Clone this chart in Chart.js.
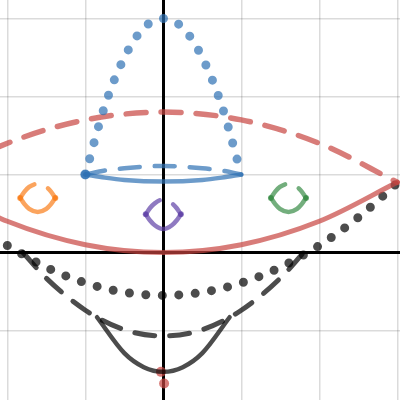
<!DOCTYPE html>
<html><head><meta charset="utf-8">
<script src="https://cdn.jsdelivr.net/npm/chart.js@4"></script>
<style>html,body{margin:0;padding:0;background:#fff}#wrap{width:400px;height:400px}</style>
</head><body><div id="wrap"><canvas id="c"></canvas></div>
<script>
// visible window and grid ticks
const xRange = [-2.094, 3.035];
const yRange = [-1.891, 3.237];
const xTicks = [-2, -1, 0, 1, 2, 3];
const yTicks = [-1, 0, 1, 2, 3];

// blue cone
const coneSideX = [-1, -0.75, -0.5, -0.25, 0, 0.25, 0.5, 0.75, 1];
const coneSideY = [1, 1.88, 2.5, 2.88, 3, 2.88, 2.5, 1.88, 1];
const coneBaseX = [-1, -0.75, -0.5, 0, 0.5, 0.75, 1];
const coneBackY = [1, 1.05, 1.08, 1.11, 1.08, 1.05, 1];
const coneFrontY = [1, 0.96, 0.93, 0.91, 0.93, 0.96, 1];
const conePointX = [-1];
const conePointY = [1];

// red lens
const lensX = [-3, -2, -1, 0, 1, 2, 3];
const lensTopY = [0.9, 1.4, 1.7, 1.8, 1.7, 1.4, 0.9];
const lensBottomY = [0.9, 0.4, 0.1, 0, 0.1, 0.4, 0.9];

// black curves
const dotCurveX = [-2, -1.5, -1, -0.5, 0, 0.5, 1, 1.5, 2, 2.5, 3];
const dotCurveY = [0.09, -0.19, -0.39, -0.51, -0.55, -0.51, -0.39, -0.19, 0.09, 0.45, 0.89];
const dashCurveX = [-1.8, -1.5, -1, -0.5, 0, 0.5, 1, 1.5, 1.8];
const dashCurveY = [0, -0.33, -0.74, -0.99, -1.07, -0.99, -0.74, -0.33, 0];
const bowlX = [-0.85, -0.5, -0.25, 0, 0.25, 0.5, 0.85];
const bowlY = [-0.83, -1.29, -1.47, -1.53, -1.47, -1.29, -0.83];

// red points
const redPtX = [-0.03, 0.01];
const redPtY = [-1.53, -1.68];

// small eyes
const orangeX = [-1.835, -1.78, -1.72, -1.61, -1.50, -1.44, -1.385];
const orangeTopY = [0.70, 0.78, 0.84, 0.88, 0.84, 0.78, 0.70];
const orangeBottomY = [0.70, 0.62, 0.56, 0.52, 0.56, 0.62, 0.70];
const purpleX = [-0.225, -0.17, -0.11, 0, 0.11, 0.17, 0.225];
const purpleTopY = [0.49, 0.57, 0.63, 0.68, 0.63, 0.57, 0.49];
const purpleBottomY = [0.49, 0.41, 0.35, 0.30, 0.35, 0.41, 0.49];
const greenX = [1.38, 1.435, 1.495, 1.605, 1.715, 1.775, 1.83];
const greenTopY = [0.70, 0.78, 0.84, 0.88, 0.84, 0.78, 0.70];
const greenBottomY = [0.70, 0.62, 0.56, 0.52, 0.56, 0.62, 0.70];

const BLUE = 'rgba(45,112,179,0.7)';
const RED = 'rgba(199,68,64,0.7)';
const BLACK = 'rgba(0,0,0,0.7)';
const ORANGE = 'rgba(250,126,25,0.7)';
const PURPLE = 'rgba(96,66,166,0.7)';
const GREEN = 'rgba(56,140,70,0.7)';

const pts = (xs, ys) => xs.map((x, i) => ({x: x, y: ys[i]}));
const DASH = [20, 15];
const DOT = [0, 16.5];

function curve(xs, ys, color, width, dash, offset) {
  return {
    data: pts(xs, ys), showLine: true, borderColor: color, borderWidth: width,
    borderDash: dash || [], borderDashOffset: offset || 0,
    borderCapStyle: 'round', borderJoinStyle: 'round',
    cubicInterpolationMode: 'monotone', pointRadius: 0, fill: false
  };
}
function dots(xs, ys, color, r) {
  return {data: pts(xs, ys), showLine: false, pointRadius: r, pointBackgroundColor: color,
          pointBorderWidth: 0, borderColor: 'transparent'};
}

const datasets = [
  curve(coneSideX, coneSideY, BLUE, 9, DOT),
  curve(coneBaseX, coneBackY, BLUE, 4.5, DASH),
  curve(coneBaseX, coneFrontY, BLUE, 4.5),
  dots(conePointX, conePointY, BLUE, 5),
  curve(lensX, lensTopY, RED, 5.5, DASH),
  curve(lensX, lensBottomY, RED, 5),
  curve(dotCurveX, dotCurveY, BLACK, 9, DOT),
  curve(dashCurveX, dashCurveY, BLACK, 5, DASH),
  curve(bowlX, bowlY, BLACK, 4.5),
  dots(redPtX, redPtY, RED, 5),
  curve(orangeX, orangeTopY, ORANGE, 4.5, DASH),
  curve(orangeX, orangeBottomY, ORANGE, 4.5),
  dots([orangeX[0], orangeX[6]], [orangeTopY[0], orangeTopY[6]], ORANGE, 3),
  curve(purpleX, purpleTopY, PURPLE, 4.5, DASH),
  curve(purpleX, purpleBottomY, PURPLE, 4.5),
  dots([purpleX[0], purpleX[6]], [purpleTopY[0], purpleTopY[6]], PURPLE, 3),
  curve(greenX, greenTopY, GREEN, 4.5, DASH),
  curve(greenX, greenBottomY, GREEN, 4.5),
  dots([greenX[0], greenX[6]], [greenTopY[0], greenTopY[6]], GREEN, 3)
];

function gridOpts() {
  return {
    drawTicks: false,
    color: c => (c.tick && c.tick.value === 0) ? '#000' : 'rgba(0,0,0,0.14)',
    lineWidth: c => (c.tick && c.tick.value === 0) ? 3 : 1.5
  };
}

new Chart(document.getElementById('c'), {
  type: 'scatter',
  data: {datasets: datasets},
  options: {
    responsive: true, maintainAspectRatio: false, animation: false,
    layout: {padding: 0, autoPadding: false},
    plugins: {legend: {display: false}, tooltip: {enabled: false}},
    scales: {
      x: {type: 'linear', min: xRange[0], max: xRange[1],
          afterBuildTicks: s => { s.ticks = xTicks.map(v => ({value: v})); },
          ticks: {display: false}, border: {display: false}, grid: gridOpts()},
      y: {type: 'linear', min: yRange[0], max: yRange[1],
          afterBuildTicks: s => { s.ticks = yTicks.map(v => ({value: v})); },
          ticks: {display: false}, border: {display: false}, grid: gridOpts()}
    }
  }
});
</script>
</body></html>
